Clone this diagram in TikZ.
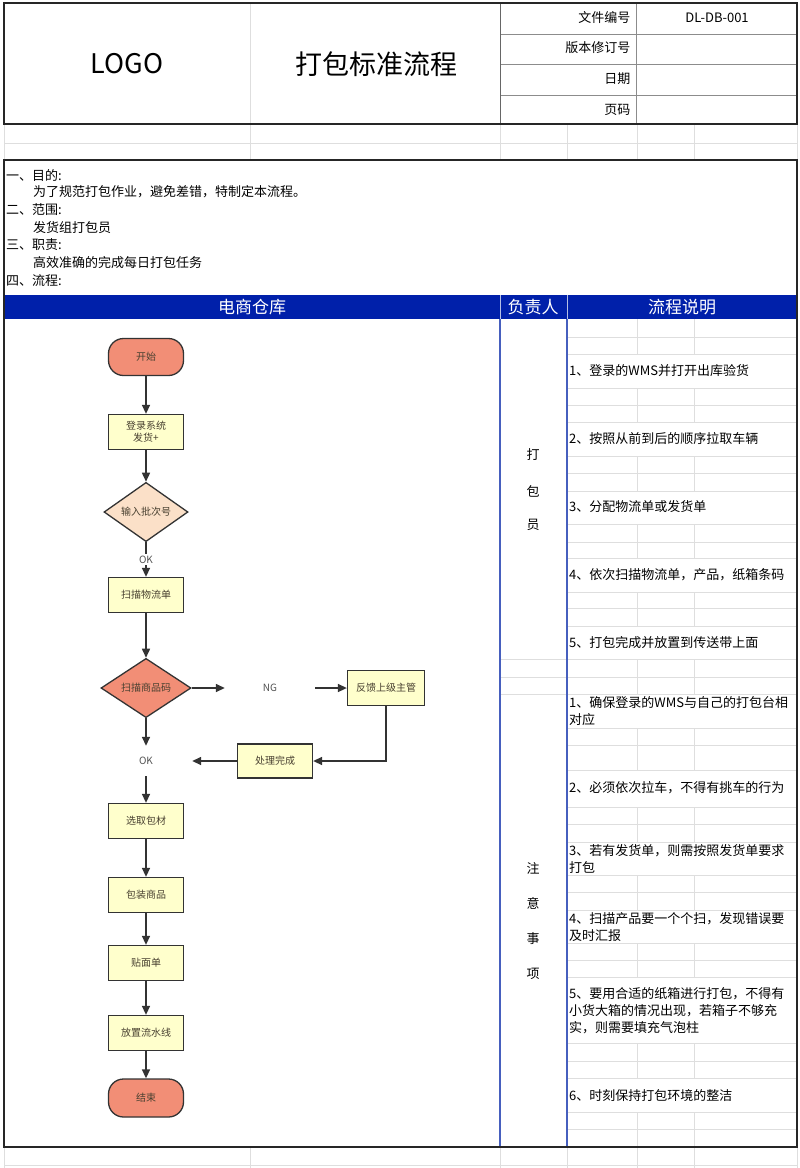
\documentclass[tikz,border=0pt]{standalone}
\usepackage{fontspec}
\setmainfont{Noto Sans CJK SC}
\usetikzlibrary{shapes.geometric,arrows.meta}
\definecolor{hdblue}{RGB}{0,32,170}
\definecolor{colblue}{RGB}{70,95,190}
\definecolor{gridgray}{RGB}{222,222,222}
\definecolor{salmon}{RGB}{242,142,118}
\definecolor{pale}{RGB}{255,255,204}
\definecolor{peach}{RGB}{251,224,200}
\definecolor{ink}{RGB}{51,51,51}
\definecolor{txt}{RGB}{72,64,48}
\begin{document}
\begin{tikzpicture}[x=1pt,y=-1pt,>={Triangle[length=9pt,width=8pt]},
	box/.style={draw=ink,line width=1.3pt,fill=pale,minimum width=75pt,minimum height=35pt,inner sep=0pt,font=\fontsize{10}{12}\selectfont,text=txt,align=center},
	term/.style={box,fill=salmon,rounded corners=15pt,minimum height=37pt},
	choice/.style={diamond,draw=ink,line width=1.3pt,inner sep=0pt,font=\fontsize{10}{12}\selectfont,text=txt},
	flag/.style={font=\fontsize{10}{12}\selectfont,text=ink!85,inner sep=0pt},
	link/.style={->,draw=ink,line width=1.5pt},
	gridline/.style={draw=gridgray,line width=0.8pt},
	boxline/.style={draw=black!85,line width=1.6pt},
	head/.style={font=\fontsize{13}{15}\selectfont},
	para/.style={anchor=west,font=\fontsize{13}{15}\selectfont,inner sep=0pt},
	note/.style={anchor=west,font=\fontsize{13}{17}\selectfont,align=left,inner sep=0pt}]
	\useasboundingbox (0,0) rectangle (800,1168);
	\fill[white] (0,0) rectangle (800,1168);
	\foreach \y in {143,1165} \draw[gridline] (4,\y) -- (797,\y);
	\foreach \x in {4,250,500,567,637,694,797} \draw[gridline] (\x,124) -- (\x,160) (\x,1147) -- (\x,1168);
	\draw[gridline] (250,3) -- (250,124);
	\draw[black!45,line width=0.8pt] (500,34) -- (797,34) (500,64) -- (797,64) (500,95) -- (797,95) (636,3) -- (636,124);
	\draw[black!60,line width=1pt] (500,3) -- (500,124);
	\draw[boxline] (4,3) rectangle (797,124);
	\node[font=\fontsize{27}{30}\selectfont] (logo) at (127,64) {LOGO};
	\node[font=\fontsize{27}{30}\selectfont] (title) at (376,64) {打包标准流程};
	\node[head,anchor=east] (docno) at (634,18) {文件编号};
	\node[head,anchor=east] (version) at (634,48) {版本修订号};
	\node[head,anchor=east] (date) at (634,79) {日期};
	\node[head,anchor=east] (page) at (634,110) {页码};
	\node[head] (docval) at (717,18) {DL-DB-001};
	\node[para] (aim) at (6,175) {一、目的:};
	\node[para] (aimtxt) at (33,192) {为了规范打包作业，避免差错，特制定本流程。};
	\node[para] (scope) at (6,210) {二、范围:};
	\node[para] (scopetxt) at (33,228) {发货组打包员};
	\node[para] (duty) at (6,245) {三、职责:};
	\node[para] (dutytxt) at (33,263) {高效准确的完成每日打包任务};
	\node[para] (flow) at (6,281) {四、流程:};
	\fill[hdblue] (4,295) rectangle (797,319);
	\draw[colblue!40,line width=1pt] (500,295) -- (500,319) (567,295) -- (567,319);
	\node[white,font=\fontsize{17}{19}\selectfont] (hwh) at (252,307) {电商仓库};
	\node[white,font=\fontsize{17}{19}\selectfont] (hman) at (533,307) {负责人};
	\node[white,font=\fontsize{17}{19}\selectfont] (hdesc) at (682,307) {流程说明};
	\foreach \y in {337,354,388,405,422,456,473,491,524,542,558,592,608,626,728,745,770,807,824,842,875,892,910,943,960,977,1043,1061,1078,1112,1129}
		\draw[gridline] (567,\y) -- (797,\y);
	\foreach \y in {659,677,694} \draw[gridline] (500,\y) -- (797,\y);
	\foreach \a/\b in {319/354,388/422,456/491,524/558,592/626,659/694,728/770,807/842,875/910,943/977,1043/1078,1112/1147}
		\draw[gridline] (637,\a) -- (637,\b) (694,\a) -- (694,\b);
	\draw[colblue,line width=1.5pt] (500,319) -- (500,1147) (567,319) -- (567,1147);
	\node[head] (r1) at (533,455) {打};
	\node[head] (r2) at (533,491) {包};
	\node[head] (r3) at (533,525) {员};
	\node[head] (n1) at (533,868) {注};
	\node[head] (n2) at (533,903) {意};
	\node[head] (n3) at (533,939) {事};
	\node[head] (n4) at (533,974) {项};
	\node[note] (s1) at (569,371) {1、登录的WMS并打开出库验货};
	\node[note] (s2) at (569,439) {2、按照从前到后的顺序拉取车辆};
	\node[note] (s3) at (569,507) {3、分配物流单或发货单};
	\node[note] (s4) at (569,575) {4、依次扫描物流单，产品，纸箱条码};
	\node[note] (s5) at (569,643) {5、打包完成并放置到传送带上面};
	\node[note] (t1) at (569,711) {1、确保登录的WMS与自己的打包台相\\对应};
	\node[note] (t2) at (569,788) {2、必须依次拉车，不得有挑车的行为};
	\node[note] (t3) at (569,859) {3、若有发货单，则需按照发货单要求\\打包};
	\node[note] (t4) at (569,927) {4、扫描产品要一个个扫，发现错误要\\及时汇报};
	\node[note] (t5) at (569,1011) {5、要用合适的纸箱进行打包，不得有\\小货大箱的情况出现，若箱子不够充\\实，则需要填充气泡柱};
	\node[note] (t6) at (569,1096) {6、时刻保持打包环境的整洁};
	\node[term] (start) at (146,357) {开始};
	\node[box] (login) at (146,432) {登录系统\\发货+};
	\node[choice,fill=peach,minimum width=84pt,minimum height=54pt] (batch) at (146,512) {输入批次号};
	\node[box] (scanlog) at (146,595) {扫描物流单};
	\node[choice,fill=salmon,minimum width=90pt,minimum height=58pt] (scanprod) at (146,688) {扫描商品码};
	\node[flag,minimum width=90pt] (ng) at (270,688) {NG};
	\node[box,minimum width=77pt] (report) at (386,688) {反馈上级主管};
	\node[box,minimum height=34pt] (done) at (275,761) {处理完成};
	\node[flag,minimum width=92pt,minimum height=30pt] (ok) at (146,761) {OK};
	\node[box] (pick) at (146,821) {选取包材};
	\node[box] (pack) at (146,895) {包装商品};
	\node[box] (stick) at (146,963) {贴面单};
	\node[box] (line) at (146,1033) {放置流水线};
	\node[term,minimum height=38pt] (finish) at (146,1098) {结束};
	\draw[link] (start) -- (login);
	\draw[link] (login) -- (batch);
	\draw[link] (batch) -- node[flag,fill=white,inner sep=2pt] (okA) {OK} (scanlog);
	\draw[link] (scanlog) -- (scanprod);
	\draw[link] (scanprod) -- (ng);
	\draw[link] (ng) -- (report);
	\draw[link] (report.south) |- (done.east);
	\draw[link] (done) -- (ok);
	\draw[link] (scanprod) -- (ok);
	\draw[link] (ok) -- (pick);
	\draw[link] (pick) -- (pack);
	\draw[link] (pack) -- (stick);
	\draw[link] (stick) -- (line);
	\draw[link] (line) -- (finish);
	\draw[boxline] (4,160) rectangle (797,1147);
\end{tikzpicture}
\end{document}
